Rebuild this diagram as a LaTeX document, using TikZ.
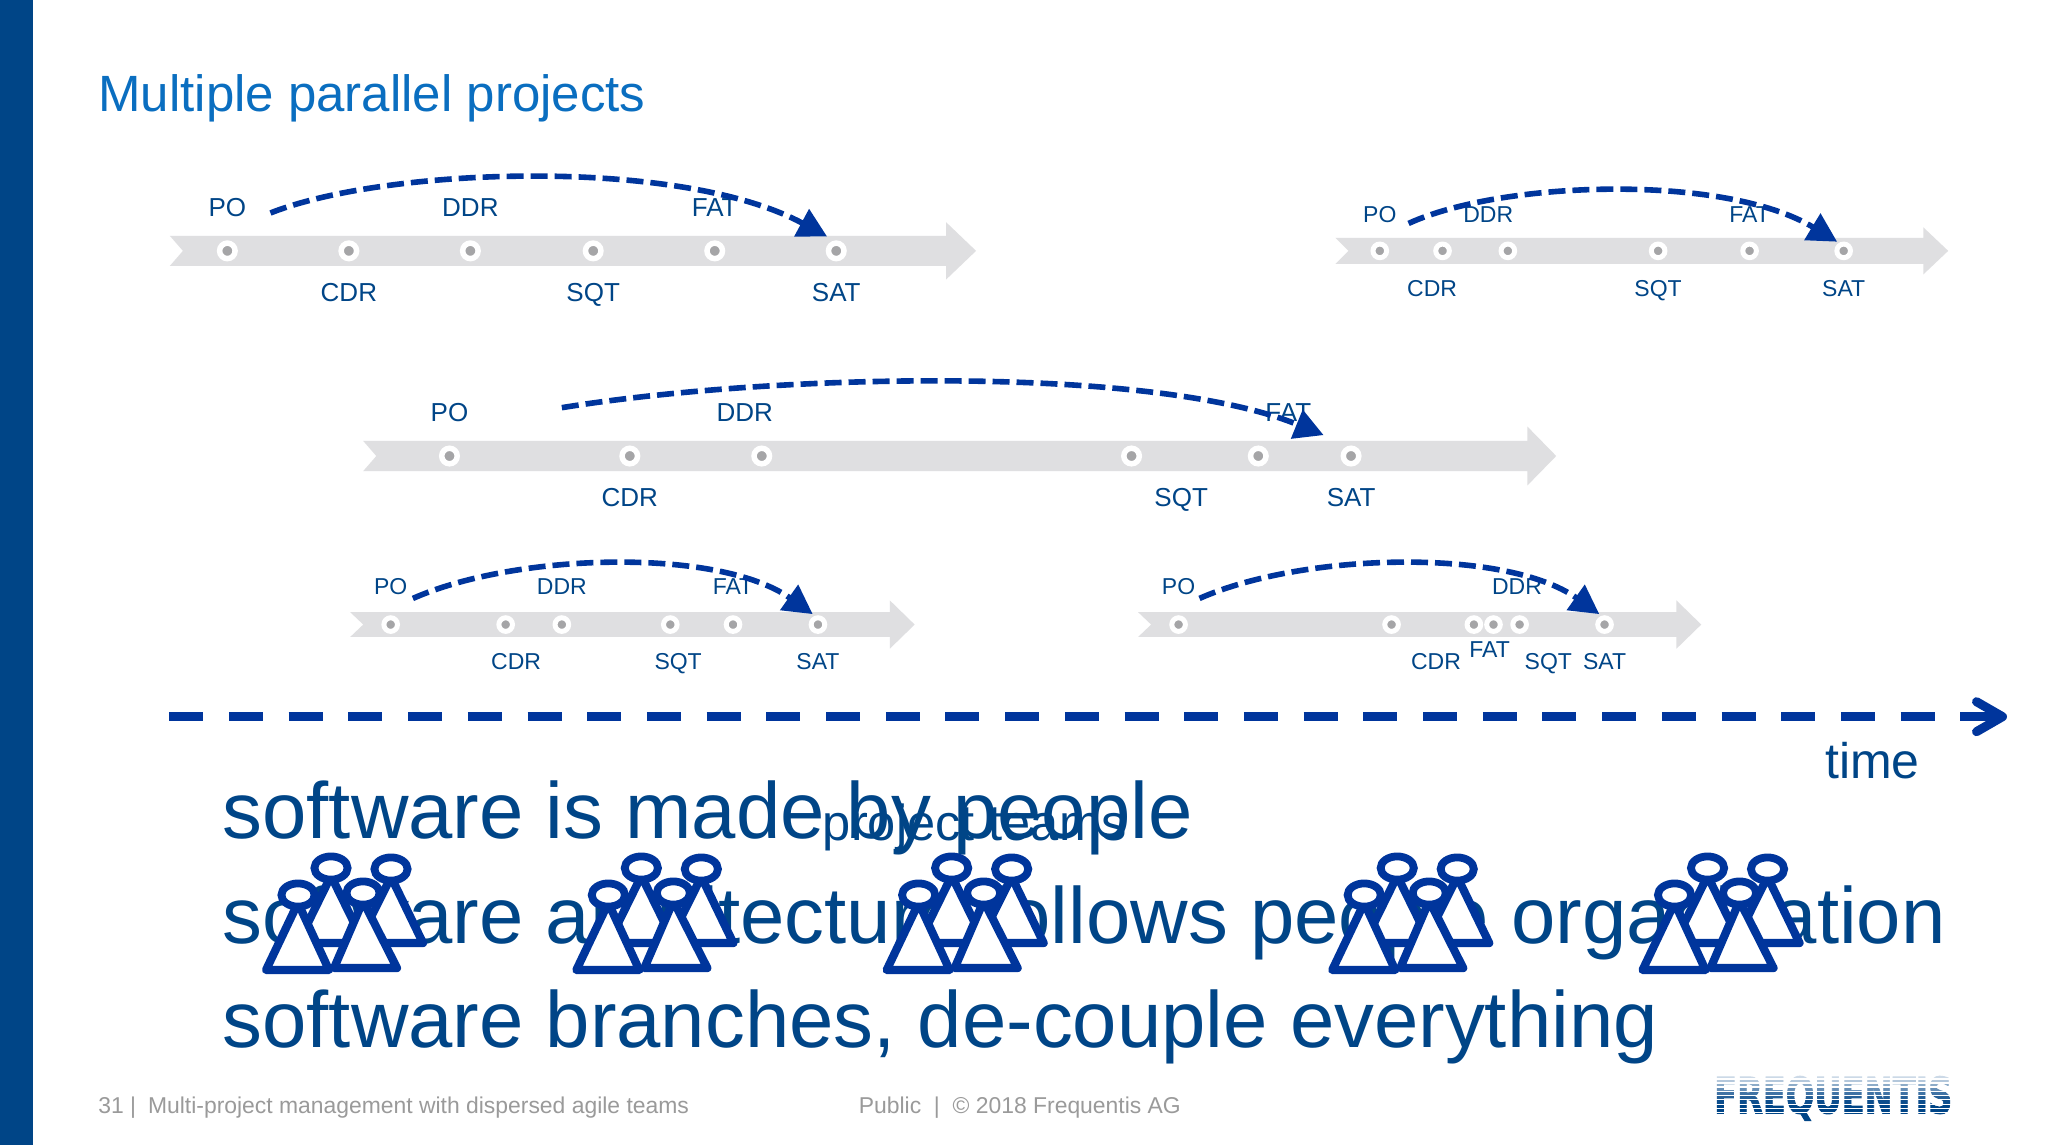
\documentclass[tikz,border=0pt]{standalone}
\usepackage{fontspec}
\setmainfont{Liberation Sans}
\newfontfamily\logofont[BoldFeatures={FakeBold=2}]{DejaVu Sans}
\usetikzlibrary{arrows.meta}
\definecolor{fblue}{HTML}{004587}
\definecolor{fdeep}{HTML}{00359C}
\definecolor{ftitle}{HTML}{0A6EC0}
\definecolor{fbar}{HTML}{DFDFE1}
\definecolor{fgrey}{HTML}{A5A5A7}
\definecolor{ffoot}{HTML}{9A9A9A}
\tikzset{
  milestone/.style={circle,inner sep=0pt,minimum size=7.75pt,fill=fgrey,draw=white,line width=2.75pt},
  smallstone/.style={milestone,minimum size=6.8pt,line width=2.5pt},
  lab/.style={text=fblue,font=\fontsize{13}{13}\selectfont,inner sep=0pt,text depth=0pt},
  smalllab/.style={lab,font=\fontsize{11.5}{11.5}\selectfont},
  sched/.style={draw=fdeep,line width=2.8pt,dash pattern=on 8.5pt off 3.5pt,
    -{Triangle[length=14.5pt,width=15pt]}},
  bigtext/.style={text=fblue,font=\fontsize{39.85}{40}\selectfont,anchor=base west,inner sep=0pt},
  foot/.style={text=ffoot,font=\fontsize{11.45}{11.5}\selectfont,anchor=base west,inner sep=0pt},
  team/.pic={
    \foreach \hx/\hy/\lx/\rx/\by in {391/869/358/423/943,331/868/298/364/943,298/895/266/329/970,363/893/334/397/968}{
      \draw[fdeep,fill=white,line width=4.1pt,line join=round]
        (\hx/1.3066,\hy/1.3066+6) -- (\rx/1.3066,\by/1.3066) -- (\lx/1.3066,\by/1.3066) -- cycle;
      \draw[fdeep,fill=white,line width=3.9pt] (\hx/1.3066,\hy/1.3066) ellipse (8.3pt and 5.8pt);
    }
  }
}
% tail x, head base x, tip x, y, half thickness, half head
\newcommand\milebar[6]{
  \fill[fbar] (#1,#4-#5) -- (#2,#4-#5) -- (#2,#4-#6) -- (#3,#4) -- (#2,#4+#6) -- (#2,#4+#5)
    -- (#1,#4+#5) -- (#1+10,#4) -- cycle;
}
\begin{document}
\begin{tikzpicture}[x=.6533pt,y=-.6533pt]
  \useasboundingbox (0,0) rectangle (1567.4,876.3);
  \fill[white] (0,0) rectangle (1567.4,876.3);
  \fill[fblue] (0,0) rectangle (25,876.3);
  \node[text=ftitle,font=\fontsize{25.5}{25.5}\selectfont,anchor=base west,inner sep=0pt] (title) at (75,85) {Multiple parallel projects};

  % the five projects
  \milebar{130}{724}{747}{192}{11.5}{22}
  \milebar{1022}{1472}{1491}{192}{10}{18}
  \milebar{278}{1169}{1191}{349}{11.5}{22.5}
  \milebar{268}{681}{700}{478}{9.5}{18.5}
  \milebar{871}{1283}{1302}{478}{9.5}{18.5}

  \foreach \x [count=\i] in {174,267,360,454,547,640}
    \node[milestone] (a\i) at (\x,192) {};
  \foreach \x [count=\i] in {1056,1104,1154,1269,1339,1411}
    \node[smallstone] (b\i) at (\x,192) {};
  \foreach \x [count=\i] in {344,482,583,866,963,1034}
    \node[milestone] (c\i) at (\x,349) {};
  \foreach \x [count=\i] in {299,387,430,513,561,626}
    \node[smallstone] (d\i) at (\x,478) {};
  \foreach \x [count=\i] in {902,1065,1128,1143,1163,1228}
    \node[smallstone] (e\i) at (\x,478) {};

  \foreach \t/\x/\y in {PO/174/159,DDR/360/159,FAT/547/159,CDR/267/224,SQT/454/224,SAT/640/224}
    \node[lab] (\t a) at (\x,\y) {\t};
  \foreach \t/\x/\y in {PO/1056/164,DDR/1139/164,FAT/1339/164,CDR/1096/221,SQT/1269/221,SAT/1411/221}
    \node[smalllab] (\t b) at (\x,\y) {\t};
  \foreach \t/\x/\y in {PO/344/316,DDR/570/316,FAT/986/316,CDR/482/381,SQT/904/381,SAT/1034/381}
    \node[lab] (\t c) at (\x,\y) {\t};
  \foreach \t/\x/\y in {PO/299/449,DDR/430/449,FAT/561/449,CDR/395/506,SQT/519/506,SAT/626/506}
    \node[smalllab] (\t d) at (\x,\y) {\t};
  \foreach \t/\x/\y in {PO/902/449,DDR/1161/449,FAT/1140/497,CDR/1099/506,SQT/1185/506,SAT/1228/506}
    \node[smalllab] (\t e) at (\x,\y) {\t};

  \coordinate (sa) at (207,163); \coordinate (ea) at (633,181);
  \coordinate (sb) at (1078,171); \coordinate (eb) at (1406,185);
  \coordinate (sc) at (430,312); \coordinate (ec) at (1013,333);
  \coordinate (sd) at (316,458); \coordinate (ed) at (622,470);
  \coordinate (se) at (918,458); \coordinate (ee) at (1224,470);
  \draw[sched] (sa) .. controls (295,128) and (520,120) .. (ea);
  \draw[sched] (sb) .. controls (1150,138) and (1320,133) .. (eb);
  \draw[sched] (sc) .. controls (590,286) and (880,279) .. (ec);
  \draw[sched] (sd) .. controls (395,423) and (550,419) .. (ed);
  \draw[sched] (se) .. controls (997,423) and (1152,419) .. (ee);

  % time axis
  \coordinate (t0) at (129.6,548.5);
  \coordinate (t1) at (1536,548.5);
  \draw[fdeep,line width=4.5pt,dash pattern=on 17pt off 12.85pt,
    -{Straight Barb[length=13pt,width=15pt,line width=4.5pt,round]}] (t0) -- (t1);
  \node[text=fblue,font=\fontsize{25}{25}\selectfont,inner sep=0pt] (time) at (1433,582) {time};

  % text block
  \node[bigtext] (l1) at (170,642) {software is made by people};
  \node[bigtext] (l2) at (170,722) {software architecture follows people organization};
  \node[bigtext] (l3) at (170,801.5) {software branches, de-couple everything};
  \node[text=fblue,font=\fontsize{25.3}{25}\selectfont,inner sep=0pt] (teams) at (746,633.5) {project teams};
  \foreach \x in {0,237.5,475,816,1053.5}
    \pic at (\x,0) {team};

  % footer
  \node[foot] (f1) at (75,852) {31 |};
  \node[foot] (f2) at (113,852) {Multi-project management with dispersed agile teams};
  \node[foot] (f3) at (657,852) {Public \ | \ © 2018 Frequentis AG};
  \node[text=fblue,font=\logofont\bfseries\fontsize{25}{25}\selectfont,inner sep=0pt,anchor=base] (logo) at (1403,852) {\scalebox{.672}[1]{FREQUENTIS}};
  \foreach \y/\o/\g in {823/.8/1.2,826.2/.7/1.2,829.4/.55/1.1,832.6/.4/1,835.8/.25/.9,839/.15/.8,842.2/.05/.7,845.4/0/.7,848.6/0/.6}{
    \fill[white,opacity=\o] (1308,\y) rectangle (1498,\y+3.2);
    \fill[white] (1308,\y+3.2-\g) rectangle (1498,\y+3.2);
  }
\end{tikzpicture}
\end{document}
